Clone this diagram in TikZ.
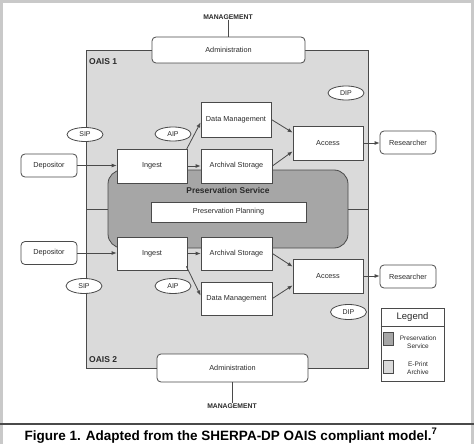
\documentclass[tikz,border=0pt]{standalone}
\usepackage{fontspec}
\setmainfont{Liberation Sans}
\usetikzlibrary{arrows.meta,calc,shapes.geometric}
\definecolor{framegrey}{HTML}{C9C9C9}
\definecolor{oaisfill}{HTML}{DADADA}
\definecolor{psfill}{HTML}{A6A6A6}
\definecolor{linec}{HTML}{4A4A4A}
\definecolor{txt}{HTML}{2A2A2A}
\newcommand{\fsz}[1]{\fontsize{#1}{#1}\selectfont}
\begin{document}
\begin{tikzpicture}[x=1pt,y=-1pt,
  box/.style={draw=linec, fill=white, line width=0.8pt, inner sep=0pt, text=txt, font=\fsz{7.3}, align=center},
  rbox/.style={box, rounded corners=4pt},
  oval/.style={ellipse, draw=linec, fill=white, line width=0.8pt, inner sep=0pt, minimum width=36pt, minimum height=14pt, text=txt, font=\fsz{7}},
  arr/.style={-{Latex[length=5pt,width=4pt]}, draw=linec, line width=0.8pt},
  plain/.style={draw=linec, line width=0.8pt},
  lbl/.style={text=txt, inner sep=0pt}
]
\useasboundingbox (0,0) rectangle (474,444);
% frame
\fill[framegrey] (0,0) rectangle (474,444);
\fill[white] (3,3) rectangle (471,444);
\draw[linec, line width=1.5pt] (0,424) -- (474,424);

% OAIS area
\node[draw=linec, fill=oaisfill, line width=1pt, minimum width=282pt, minimum height=317pt, inner sep=0pt] (oais) at (227,209.5) {};
\node[lbl, anchor=west, font=\bfseries\fsz{8.5}] (oais1) at (89,62) {OAIS 1};
\node[lbl, anchor=west, font=\bfseries\fsz{8.5}] (oais2) at (89,360) {OAIS 2};

% Preservation service
\node[draw=linec, fill=psfill, line width=0.8pt, rounded corners=14pt, minimum width=240pt, minimum height=78pt, inner sep=0pt] (ps) at (228,209) {};
\node[lbl, font=\bfseries\fsz{8.4}] (pstitle) at (228,190) {Preservation Service};
\node[box, minimum width=155pt, minimum height=20pt] (pp) at (228.5,212) {Preservation Planning};
\draw[plain] (ps.west) -- (ps.west -| oais.west);
\draw[plain] (ps.east) -- (ps.east -| oais.east);

% Administration / management
\node[rbox, minimum width=153pt, minimum height=26pt] (adm1) at (228.5,50) {Administration};
\node[rbox, minimum width=151pt, minimum height=28pt] (adm2) at (232.5,368) {Administration};
\node[lbl, font=\bfseries\fsz{6.8}] (mg1) at (228,17) {MANAGEMENT};
\node[lbl, font=\bfseries\fsz{6.8}] (mg2) at (232,406) {MANAGEMENT};
\draw[plain] (mg1.south) -- (mg1.south |- adm1.north);
\draw[plain] (adm2.south) -- (adm2.south |- mg2.north);

% upper chain
\node[oval] (dip1) at (346,93) {DIP};
\node[oval] (sip1) at (85,134.5) {SIP};
\node[oval] (aip1) at (173,134) {AIP};
\node[box, minimum width=70pt, minimum height=35pt] (dm1) at (236,119.5) {Data Management};
\node[box, minimum width=70pt, minimum height=34pt] (acc1) at (328,143) {Access};
\node[rbox, minimum width=56pt, minimum height=23pt] (res1) at (408,142.5) {Researcher};
\node[rbox, minimum width=56pt, minimum height=23pt] (dep1) at (49,165.5) {Depositor};
\node[box, minimum width=70pt, minimum height=34pt] (ing1) at (152,166) {Ingest};
\node[box, minimum width=71pt, minimum height=34pt] (as1) at (236.5,166) {Archival Storage};

\draw[arr] (dep1.east) -- (dep1.east -| ing1.west);
\draw[arr] (ing1.east) -- (ing1.east -| as1.west);
\draw[arr] ($(ing1.north east)+(-1,1)$) -- ($(dm1.west)+(0,3)$);
\draw[arr] (dm1.east) -- ($(acc1.north west)+(0,7)$);
\draw[arr] (as1.east) -- ($(acc1.south west)+(0,-9)$);
\draw[arr] (acc1.east) -- (acc1.east -| res1.west);

% lower chain
\node[rbox, minimum width=56pt, minimum height=23pt] (dep2) at (49,253) {Depositor};
\node[box, minimum width=70pt, minimum height=33pt] (ing2) at (152,253.5) {Ingest};
\node[box, minimum width=71pt, minimum height=33pt] (as2) at (236.5,253.5) {Archival Storage};
\node[box, minimum width=71pt, minimum height=33pt] (dm2) at (236.5,298.5) {Data Management};
\node[oval, minimum height=15pt] (sip2) at (84,286) {SIP};
\node[oval, minimum height=15pt] (aip2) at (173,286) {AIP};
\node[box, minimum width=70pt, minimum height=34pt] (acc2) at (328,276) {Access};
\node[rbox, minimum width=56pt, minimum height=23pt] (res2) at (408,276.5) {Researcher};
\node[oval, minimum height=15pt] (dip2) at (348.5,312) {DIP};

\draw[arr] (dep2.east) -- (dep2.east -| ing2.west);
\draw[arr] (ing2.east) -- (ing2.east -| as2.west);
\draw[arr] ($(ing2.south east)+(-1,-4)$) -- ($(dm2.west)+(0,-3)$);
\draw[arr] (as2.east) -- ($(acc2.north west)+(0,8)$);
\draw[arr] (dm2.east) -- ($(acc2.south west)+(0,-8)$);
\draw[arr] (acc2.east) -- (acc2.east -| res2.west);

% legend
\node[draw=linec, fill=white, line width=0.8pt, minimum width=63pt, minimum height=73pt, inner sep=0pt] (leg) at (412.5,344.5) {};
\node[lbl, font=\fsz{9.5}] (legt) at (412.5,317) {Legend};
\draw[plain] (leg.west |- 0,326) coordinate (lh1) -- (leg.east |- lh1);
\node[draw=linec, fill=psfill, line width=0.6pt, minimum width=10pt, minimum height=13pt, inner sep=0pt] (sw1) at (388,338.5) {};
\node[draw=linec, fill=oaisfill, line width=0.6pt, minimum width=10pt, minimum height=13pt, inner sep=0pt] (sw2) at (388,366.5) {};
\node[lbl, font=\fsz{6.5}, align=center] (lt1) at (418,342) {Preservation\\[1pt]Service};
\node[lbl, font=\fsz{6.5}, align=center] (lt2) at (418,368) {E-Print\\[1pt]Archive};

% caption
\node[lbl, anchor=base, text=black, font=\bfseries\fsz{13.5}] (cap) at (231,440) {Figure 1. Adapted from the SHERPA-DP OAIS compliant model.\textsuperscript{7}};
\end{tikzpicture}
\end{document}
